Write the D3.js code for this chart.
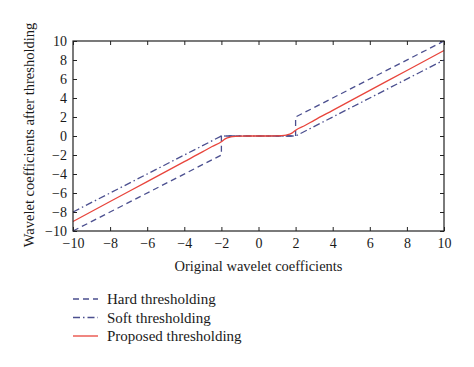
<!DOCTYPE html>
<html>
<head>
<meta charset="utf-8">
<script src="https://cdn.jsdelivr.net/npm/d3@7"></script>
<style>
  body { margin: 0; background: #fff; }
  text { font-family: "Liberation Serif", "DejaVu Serif", serif; fill: #1a1a1a; }
</style>
</head>
<body>
<svg id="chart" width="474" height="367"></svg>
<script>
// Hard thresholding (jumps at +/-2)
const hardX = [-10, -2, -2, 2, 2, 10];
const hardY = [-10, -2, 0, 0, 2, 10];

// Soft thresholding
const softX = [-10, -2, 2, 10];
const softY = [-8, 0, 0, 8];

// Proposed thresholding
const propX = [-10, -8, -6, -4, -3, -2.5, -2, -1.8, -1.5, -1.2, -1, -0.5, 0, 0.5, 1, 1.2, 1.5, 1.8, 2, 2.5, 3, 4, 6, 8, 10];
const propY = [-9, -6.9, -4.8, -2.7, -1.65, -1.1, -0.6, -0.3, -0.1, -0.03, -0.01, 0, 0, 0, 0.01, 0.03, 0.1, 0.3, 0.6, 1.1, 1.65, 2.7, 4.8, 6.9, 9];

const xTicks = [-10, -8, -6, -4, -2, 0, 2, 4, 6, 8, 10];
const yTicks = [-10, -8, -6, -4, -2, 0, 2, 4, 6, 8, 10];

const series = [
  { name: "Hard thresholding", xs: hardX, ys: hardY, color: "#4b4f8f", dash: "6,4" },
  { name: "Soft thresholding", xs: softX, ys: softY, color: "#4b4f8f", dash: "7,3,1.5,3" },
  { name: "Proposed thresholding", xs: propX, ys: propY, color: "#e8453c", dash: null }
];

const svg = d3.select("#chart");
const margin = { top: 41, right: 30, bottom: 136, left: 73 };
const width = 474 - margin.left - margin.right;
const height = 367 - margin.top - margin.bottom;

const g = svg.append("g")
  .attr("transform", "translate(" + margin.left + "," + margin.top + ")");

const x = d3.scaleLinear().domain([-10, 10]).range([0, width]);
const y = d3.scaleLinear().domain([-10, 10]).range([height, 0]);

const fmt = d => d < 0 ? "\u2212" + Math.abs(d) : String(d);

// axes with inward ticks on all sides
const axisStyle = sel => {
  sel.select(".domain").remove();
  sel.selectAll("line").attr("stroke", "#222");
  sel.selectAll("text").style("font-size", "14px").attr("fill", "#1a1a1a");
};

g.append("g").attr("transform", "translate(0," + height + ")")
  .call(d3.axisBottom(x).tickValues(xTicks).tickFormat(fmt).tickSizeInner(-4).tickSizeOuter(0).tickPadding(7))
  .call(axisStyle);
g.append("g")
  .call(d3.axisTop(x).tickValues(xTicks).tickFormat("").tickSizeInner(-4).tickSizeOuter(0))
  .call(axisStyle);
g.append("g")
  .call(d3.axisLeft(y).tickValues(yTicks).tickFormat(fmt).tickSizeInner(-4).tickSizeOuter(0).tickPadding(6))
  .call(axisStyle);
g.append("g").attr("transform", "translate(" + width + ",0)")
  .call(d3.axisRight(y).tickValues(yTicks).tickFormat("").tickSizeInner(-4).tickSizeOuter(0))
  .call(axisStyle);

// lines
const line = d3.line()
  .x(d => x(d[0]))
  .y(d => y(d[1]));

series.forEach(s => {
  const pts = s.xs.map((v, i) => [v, s.ys[i]]);
  g.append("path")
    .datum(pts)
    .attr("fill", "none")
    .attr("stroke", s.color)
    .attr("stroke-width", 1.3)
    .attr("stroke-dasharray", s.dash)
    .attr("d", s.name === "Proposed thresholding" ? line.curve(d3.curveMonotoneX)(pts) : line.curve(d3.curveLinear)(pts));
});

// frame
g.append("rect")
  .attr("width", width).attr("height", height)
  .attr("fill", "none").attr("stroke", "#222").attr("stroke-width", 1.2);

// axis titles
svg.append("text")
  .attr("x", margin.left + width / 2)
  .attr("y", 271)
  .attr("text-anchor", "middle")
  .style("font-size", "14.5px")
  .text("Original wavelet coefficients");

svg.append("text")
  .attr("transform", "translate(34," + (margin.top + height / 2 - 1) + ") rotate(-90)")
  .attr("text-anchor", "middle")
  .style("font-size", "14.5px")
  .text("Wavelet coefficients after thresholding");

// legend
const legend = svg.append("g").attr("transform", "translate(73,299)");
series.forEach((s, i) => {
  const row = legend.append("g").attr("transform", "translate(0," + (i * 18.5) + ")");
  row.append("line")
    .attr("x1", 0).attr("x2", 25).attr("y1", 0).attr("y2", 0)
    .attr("stroke", s.color).attr("stroke-width", 1.3)
    .attr("stroke-dasharray", s.dash);
  row.append("text")
    .attr("x", 34).attr("y", 5)
    .style("font-size", "15px")
    .text(s.name);
});
</script>
</body>
</html>
